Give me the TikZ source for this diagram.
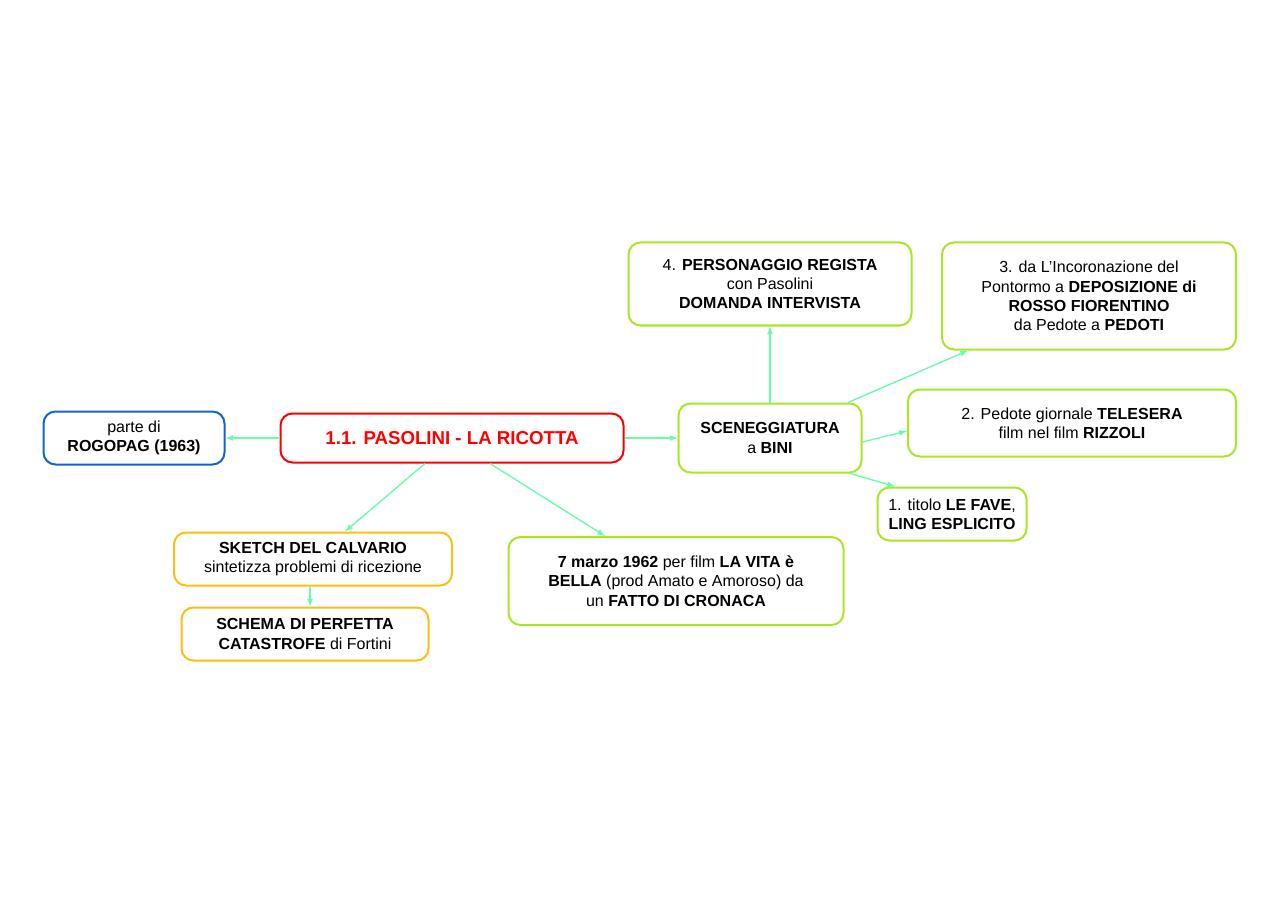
\documentclass[tikz,border=0pt]{standalone}
\usepackage{fontspec}
\setmainfont{Liberation Sans}
\begin{document}
\begin{tikzpicture}[x=0.75pt,y=-0.75pt,
 box/.style={draw,line width=1.5pt,rounded corners=9pt,align=center,font=\fontsize{12}{14.5}\selectfont,inner sep=0pt},
 grn/.style={box,draw={rgb,255:red,170;green,230;blue,40}},
 org/.style={box,draw={rgb,255:red,250;green,190;blue,20}},
 conn/.style={draw={rgb,255:red,100;green,255;blue,170},line width=1pt,-latex}]
\useasboundingbox (0,0) rectangle (1280,905);
\node[box,draw=red,text=red,minimum width=343*0.75pt,minimum height=49*0.75pt,font=\fontsize{14}{16}\selectfont\bfseries] (root) at (452,438) {1.1. PASOLINI - LA RICOTTA};
\node[box,draw={rgb,255:red,20;green,100;blue,200},minimum width=181*0.75pt,minimum height=53*0.75pt] (rog) at (134,438) {parte di\\\textbf{ROGOPAG (1963)}};
\node[grn,minimum width=183*0.75pt,minimum height=69*0.75pt] (scen) at (770,438) {\textbf{SCENEGGIATURA}\\a \textbf{BINI}};
\node[grn,minimum width=283*0.75pt,minimum height=83*0.75pt] (n4) at (770,284) {4. \textbf{PERSONAGGIO REGISTA}\\con Pasolini\\\textbf{DOMANDA INTERVISTA}};
\node[grn,minimum width=294*0.75pt,minimum height=107*0.75pt] (n3) at (1089,296) {3. da L'Incoronazione del\\Pontormo a \textbf{DEPOSIZIONE di}\\\textbf{ROSSO FIORENTINO}\\da Pedote a \textbf{PEDOTI}};
\node[grn,minimum width=328*0.75pt,minimum height=67*0.75pt] (n2) at (1072,423) {2. Pedote giornale \textbf{TELESERA}\\film nel film \textbf{RIZZOLI}};
\node[grn,minimum width=149*0.75pt,minimum height=53*0.75pt] (n1) at (952,514) {1. titolo \textbf{LE FAVE},\\\textbf{LING ESPLICITO}};
\node[grn,minimum width=335*0.75pt,minimum height=88*0.75pt] (n7) at (676,581) {\textbf{7 marzo 1962} per film \textbf{LA VITA è}\\\textbf{BELLA} (prod Amato e Amoroso) da\\un \textbf{FATTO DI CRONACA}};
\node[org,minimum width=278*0.75pt,minimum height=53*0.75pt] (sk) at (313,559) {\textbf{SKETCH DEL CALVARIO}\\sintetizza problemi di ricezione};
\node[org,minimum width=247*0.75pt,minimum height=53*0.75pt] (sc) at (305,634) {\textbf{SCHEMA DI PERFETTA}\\\textbf{CATASTROFE} di Fortini};
\draw[conn] (root) -- (rog);
\draw[conn] (root) -- (scen);
\draw[conn] (root.south)+(-27,0) -- (sk.north -| 345,0);
\draw[conn] ([xshift=38*0.75pt]root.south) -- ([xshift=-71*0.75pt]n7.north);
\draw[conn] ([xshift=-3*0.75pt]sk.south) -- ([xshift=5*0.75pt]sc.north);
\draw[conn] (scen) -- (n4);
\draw[conn] ([xshift=78*0.75pt]scen.north) -- ([xshift=-121*0.75pt]n3.south);
\draw[conn] ([yshift=-4*0.75pt]scen.east) -- ([yshift=-8*0.75pt]n2.west);
\draw[conn] ([xshift=80*0.75pt]scen.south) -- ([xshift=-57*0.75pt]n1.north);
\end{tikzpicture}
\end{document}
